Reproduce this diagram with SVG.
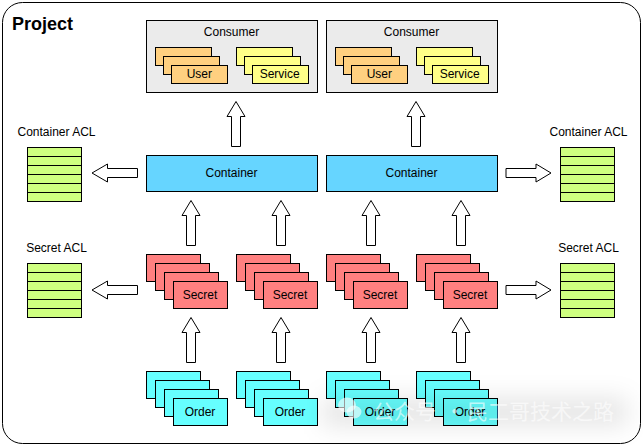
<svg xmlns="http://www.w3.org/2000/svg" width="643" height="445" viewBox="0 0 643 445">
<style>
rect,path.a{stroke:#000;stroke-width:1}
text{font-family:"Liberation Sans",Arial,sans-serif;font-size:12px;fill:#000;text-anchor:middle}
.frame{fill:#fff}
.panel{fill:#ebebeb}
.user{fill:#ffd080}
.service{fill:#ffff88}
.cont{fill:#66d5ff}
.acl{fill:#cfff80}
.secret{fill:#ff8080}
.order{fill:#66ffff}
path.a{fill:#fff;stroke-linejoin:miter}
#title{font-size:18px;font-weight:bold;text-anchor:start}
#watermark text{font-family:"Noto Sans CJK SC","Liberation Sans",sans-serif;font-size:21px;fill:#fff;fill-opacity:.6;text-anchor:start}
#watermark ellipse{fill:#fff;fill-opacity:.6}
#watermark rect{stroke:none;fill:#000;fill-opacity:.1}
</style>
<defs>
<filter id="soft" filterUnits="userSpaceOnUse" x="280" y="350" width="363" height="95"><feGaussianBlur stdDeviation="12"/></filter>
<path id="up" class="a" d="M0 0L9 15H4.500V45H-4.500V15H-9Z"/>
<path id="left" class="a" d="M0 0L15.500 -9V-4.500H45.500V4.500H15.500V9Z"/>
<path id="right" class="a" d="M0 0L-15 -9V-4.500H-45V4.500H-15V9Z"/>
<g id="aclbox">
<rect class="acl" x="0" y="0" width="54" height="9"/><rect class="acl" x="0" y="9" width="54" height="9"/><rect class="acl" x="0" y="18" width="54" height="9"/><rect class="acl" x="0" y="27" width="54" height="9"/><rect class="acl" x="0" y="36" width="54" height="9"/><rect class="acl" x="0" y="45" width="54" height="9"/>
</g>
<g id="secretstack">
<rect class="secret" x="0" y="0" width="54" height="27"/><rect class="secret" x="9" y="9" width="54" height="27"/><rect class="secret" x="18" y="18" width="54" height="27"/><rect class="secret" x="27" y="27" width="54" height="27"/>
<text x="53.500" y="44.500">Secret</text>
</g>
<g id="orderstack">
<rect class="order" x="0" y="0" width="54" height="27"/><rect class="order" x="9" y="9" width="54" height="27"/><rect class="order" x="18" y="18" width="54" height="27"/><rect class="order" x="27" y="27" width="54" height="27"/>
<text x="53.500" y="44.200">Order</text>
</g>
<g id="consumerbox">
<rect class="panel" x="0" y="0" width="171" height="72"/>
<text x="85" y="15">Consumer</text>
<rect class="user" x="9" y="27" width="56" height="18"/><rect class="user" x="17" y="36" width="56" height="18"/><rect class="user" x="25" y="45" width="56" height="18"/>
<text x="52.800" y="57.200">User</text>
<rect class="service" x="90" y="27" width="56" height="18"/><rect class="service" x="98" y="36" width="56" height="18"/><rect class="service" x="106" y="45" width="56" height="18"/>
<text x="133.200" y="57.200">Service</text>
</g>
</defs>
<g id="project"><rect class="frame" x="2.500" y="2.500" width="638" height="441" rx="20" ry="20"/><text id="title" x="12" y="30">Project</text></g>
<g id="connectors">
<use href="#up" x="236" y="101.500"/><use href="#up" x="416" y="101.500"/>
<use href="#left" x="92" y="173"/><use href="#right" x="551" y="173"/>
<use href="#left" x="92" y="290"/><use href="#right" x="551" y="290"/>
<use href="#up" x="191" y="200.500"/><use href="#up" x="281" y="200.500"/><use href="#up" x="371" y="200.500"/><use href="#up" x="461" y="200.500"/>
<use href="#up" x="191" y="317.500"/><use href="#up" x="281" y="317.500"/><use href="#up" x="371" y="317.500"/><use href="#up" x="461" y="317.500"/>
</g>
<g id="consumer1"><use href="#consumerbox" x="146.500" y="20.500"/></g>
<g id="consumer2"><use href="#consumerbox" x="326.500" y="20.500"/></g>
<g id="container1"><rect class="cont" x="146.500" y="155.500" width="171" height="36"/><text x="231.500" y="176.800">Container</text></g>
<g id="container2"><rect class="cont" x="326.500" y="155.500" width="171" height="36"/><text x="411.500" y="176.800">Container</text></g>
<g id="containeracl1"><text x="56.500" y="136">Container ACL</text><use href="#aclbox" x="27.500" y="147.500"/></g>
<g id="containeracl2"><text x="588.500" y="136">Container ACL</text><use href="#aclbox" x="560.500" y="147.500"/></g>
<g id="secretacl1"><text x="56.500" y="252">Secret ACL</text><use href="#aclbox" x="27.500" y="263.500"/></g>
<g id="secretacl2"><text x="588.500" y="252">Secret ACL</text><use href="#aclbox" x="560.500" y="263.500"/></g>
<g id="secret1"><use href="#secretstack" x="146.500" y="254.500"/></g>
<g id="secret2"><use href="#secretstack" x="236.500" y="254.500"/></g>
<g id="secret3"><use href="#secretstack" x="326.500" y="254.500"/></g>
<g id="secret4"><use href="#secretstack" x="416.500" y="254.500"/></g>
<g id="order1"><use href="#orderstack" x="146.500" y="371.500"/></g>
<g id="order2"><use href="#orderstack" x="236.500" y="371.500"/></g>
<g id="order3"><use href="#orderstack" x="326.500" y="371.500"/></g>
<g id="order4"><use href="#orderstack" x="416.500" y="371.500"/></g>
<g id="watermark">
<rect x="322" y="398" width="305" height="28" filter="url(#soft)"/>
<ellipse cx="347" cy="405" rx="9" ry="7.500"/><ellipse cx="354" cy="412" rx="7.500" ry="6.500"/>
<text x="373" y="419">公众号</text>
<text x="444" y="419">·</text>
<text x="467" y="419">民工哥技术之路</text>
</g>
</svg>
